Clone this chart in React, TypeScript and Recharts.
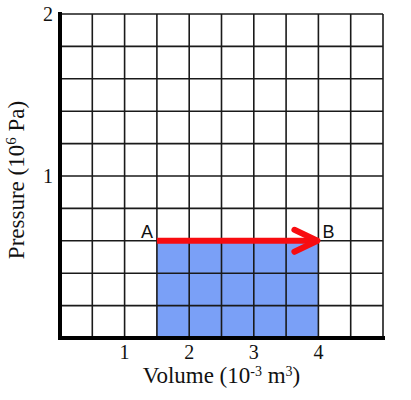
import React from "react";
import {
  ComposedChart,
  Area,
  Line,
  XAxis,
  YAxis,
  CartesianGrid,
  Label,
} from "recharts";

// axis ticks
const volumeTicks = [1, 2, 3, 4];
const pressureTicks = [1, 2];
const gridVolume = [0, 0.5, 1, 1.5, 2, 2.5, 3, 3.5, 4, 4.5, 5];
const gridPressure = [0, 0.2, 0.4, 0.6, 0.8, 1, 1.2, 1.4, 1.6, 1.8, 2];

// isobaric process A -> B
const processVolume = [1.5, 4];
const processPressure = [0.6, 0.6];
const pointLabels = ["A", "B"];

const data = processVolume.map((v, i) => ({
  volume: v,
  pressure: processPressure[i],
  label: pointLabels[i],
}));

const RED = "#f80c10";
const BLUE = "#7aa0f7";

const PointMark = (props: any) => {
  const { cx, cy, index, payload } = props;
  const isLast = index === data.length - 1;
  return (
    <g key={`pt-${index}`}>
      <text
        x={isLast ? cx + 4 : cx - 4}
        y={cy - 3}
        textAnchor={isLast ? "start" : "end"}
        fontFamily="Liberation Sans, Arial, sans-serif"
        fontSize={18}
        fill="#111"
      >
        {payload.label}
      </text>
      {isLast && (
        <path
          d={`M${cx - 24},${cy - 11} L${cx - 1},${cy} L${cx - 24},${cy + 11}`}
          fill="none"
          stroke={RED}
          strokeWidth={6}
          strokeLinecap="round"
          strokeLinejoin="round"
        />
      )}
    </g>
  );
};

const XTitle = ({ viewBox }: any) => {
  const cx = viewBox.x + viewBox.width / 2;
  return (
    <text
      x={cx}
      y={viewBox.y + 45}
      textAnchor="middle"
      fontFamily="Liberation Serif, Times New Roman, serif"
      fontSize={23}
      fill="#111"
    >
      Volume (10
      <tspan dy={-7} fontSize={14}>
        -3
      </tspan>
      <tspan dy={7}> m</tspan>
      <tspan dy={-7} fontSize={14}>
        3
      </tspan>
      <tspan dy={7}>)</tspan>
    </text>
  );
};

const YTitle = ({ viewBox }: any) => {
  const x = 24;
  const y = viewBox.y + viewBox.height / 2 + 4;
  return (
    <text
      x={x}
      y={y}
      transform={`rotate(-90, ${x}, ${y})`}
      textAnchor="middle"
      fontFamily="Liberation Serif, Times New Roman, serif"
      fontSize={23}
      fill="#111"
    >
      Pressure (10
      <tspan dy={-8} fontSize={15}>
        6
      </tspan>
      <tspan dy={8}> Pa)</tspan>
    </text>
  );
};

const tickStyle = {
  fontFamily: "Liberation Serif, Times New Roman, serif",
  fontSize: 20,
  fill: "#111",
};

export default function App() {
  return (
    <div style={{ position: "absolute", left: 0, top: 0, background: "#fff" }}>
      <ComposedChart
        width={411}
        height={400}
        data={data}
        margin={{ top: 14, right: 28, bottom: 22, left: 8 }}
      >
        <Area
          type="linear"
          dataKey="pressure"
          baseValue={0}
          fill={BLUE}
          fillOpacity={1}
          stroke="none"
          isAnimationActive={false}
          dot={false}
          activeDot={false}
        />
        <CartesianGrid
          verticalValues={gridVolume}
          horizontalValues={gridPressure}
          stroke="#1a1a1a"
          strokeWidth={1.6}
          strokeOpacity={1}
          fill="none"
          zIndex={200}
        />
        <Line
          type="linear"
          dataKey="pressure"
          stroke={RED}
          strokeWidth={6}
          dot={PointMark}
          activeDot={false}
          isAnimationActive={false}
        />
        <XAxis
          type="number"
          dataKey="volume"
          domain={[0, 5]}
          ticks={volumeTicks}
          allowDataOverflow
          height={40}
          tickLine={false}
          tickMargin={1}
          tick={tickStyle}
          axisLine={{ stroke: "#000", strokeWidth: 4, strokeLinecap: "square" }}
        >
          <Label content={<XTitle />} />
        </XAxis>
        <YAxis
          type="number"
          domain={[0, 2]}
          ticks={pressureTicks}
          allowDataOverflow
          width={52}
          tickLine={false}
          tickMargin={1}
          tick={tickStyle}
          axisLine={{ stroke: "#000", strokeWidth: 4, strokeLinecap: "square" }}
        >
          <Label content={<YTitle />} />
        </YAxis>
      </ComposedChart>
    </div>
  );
}
